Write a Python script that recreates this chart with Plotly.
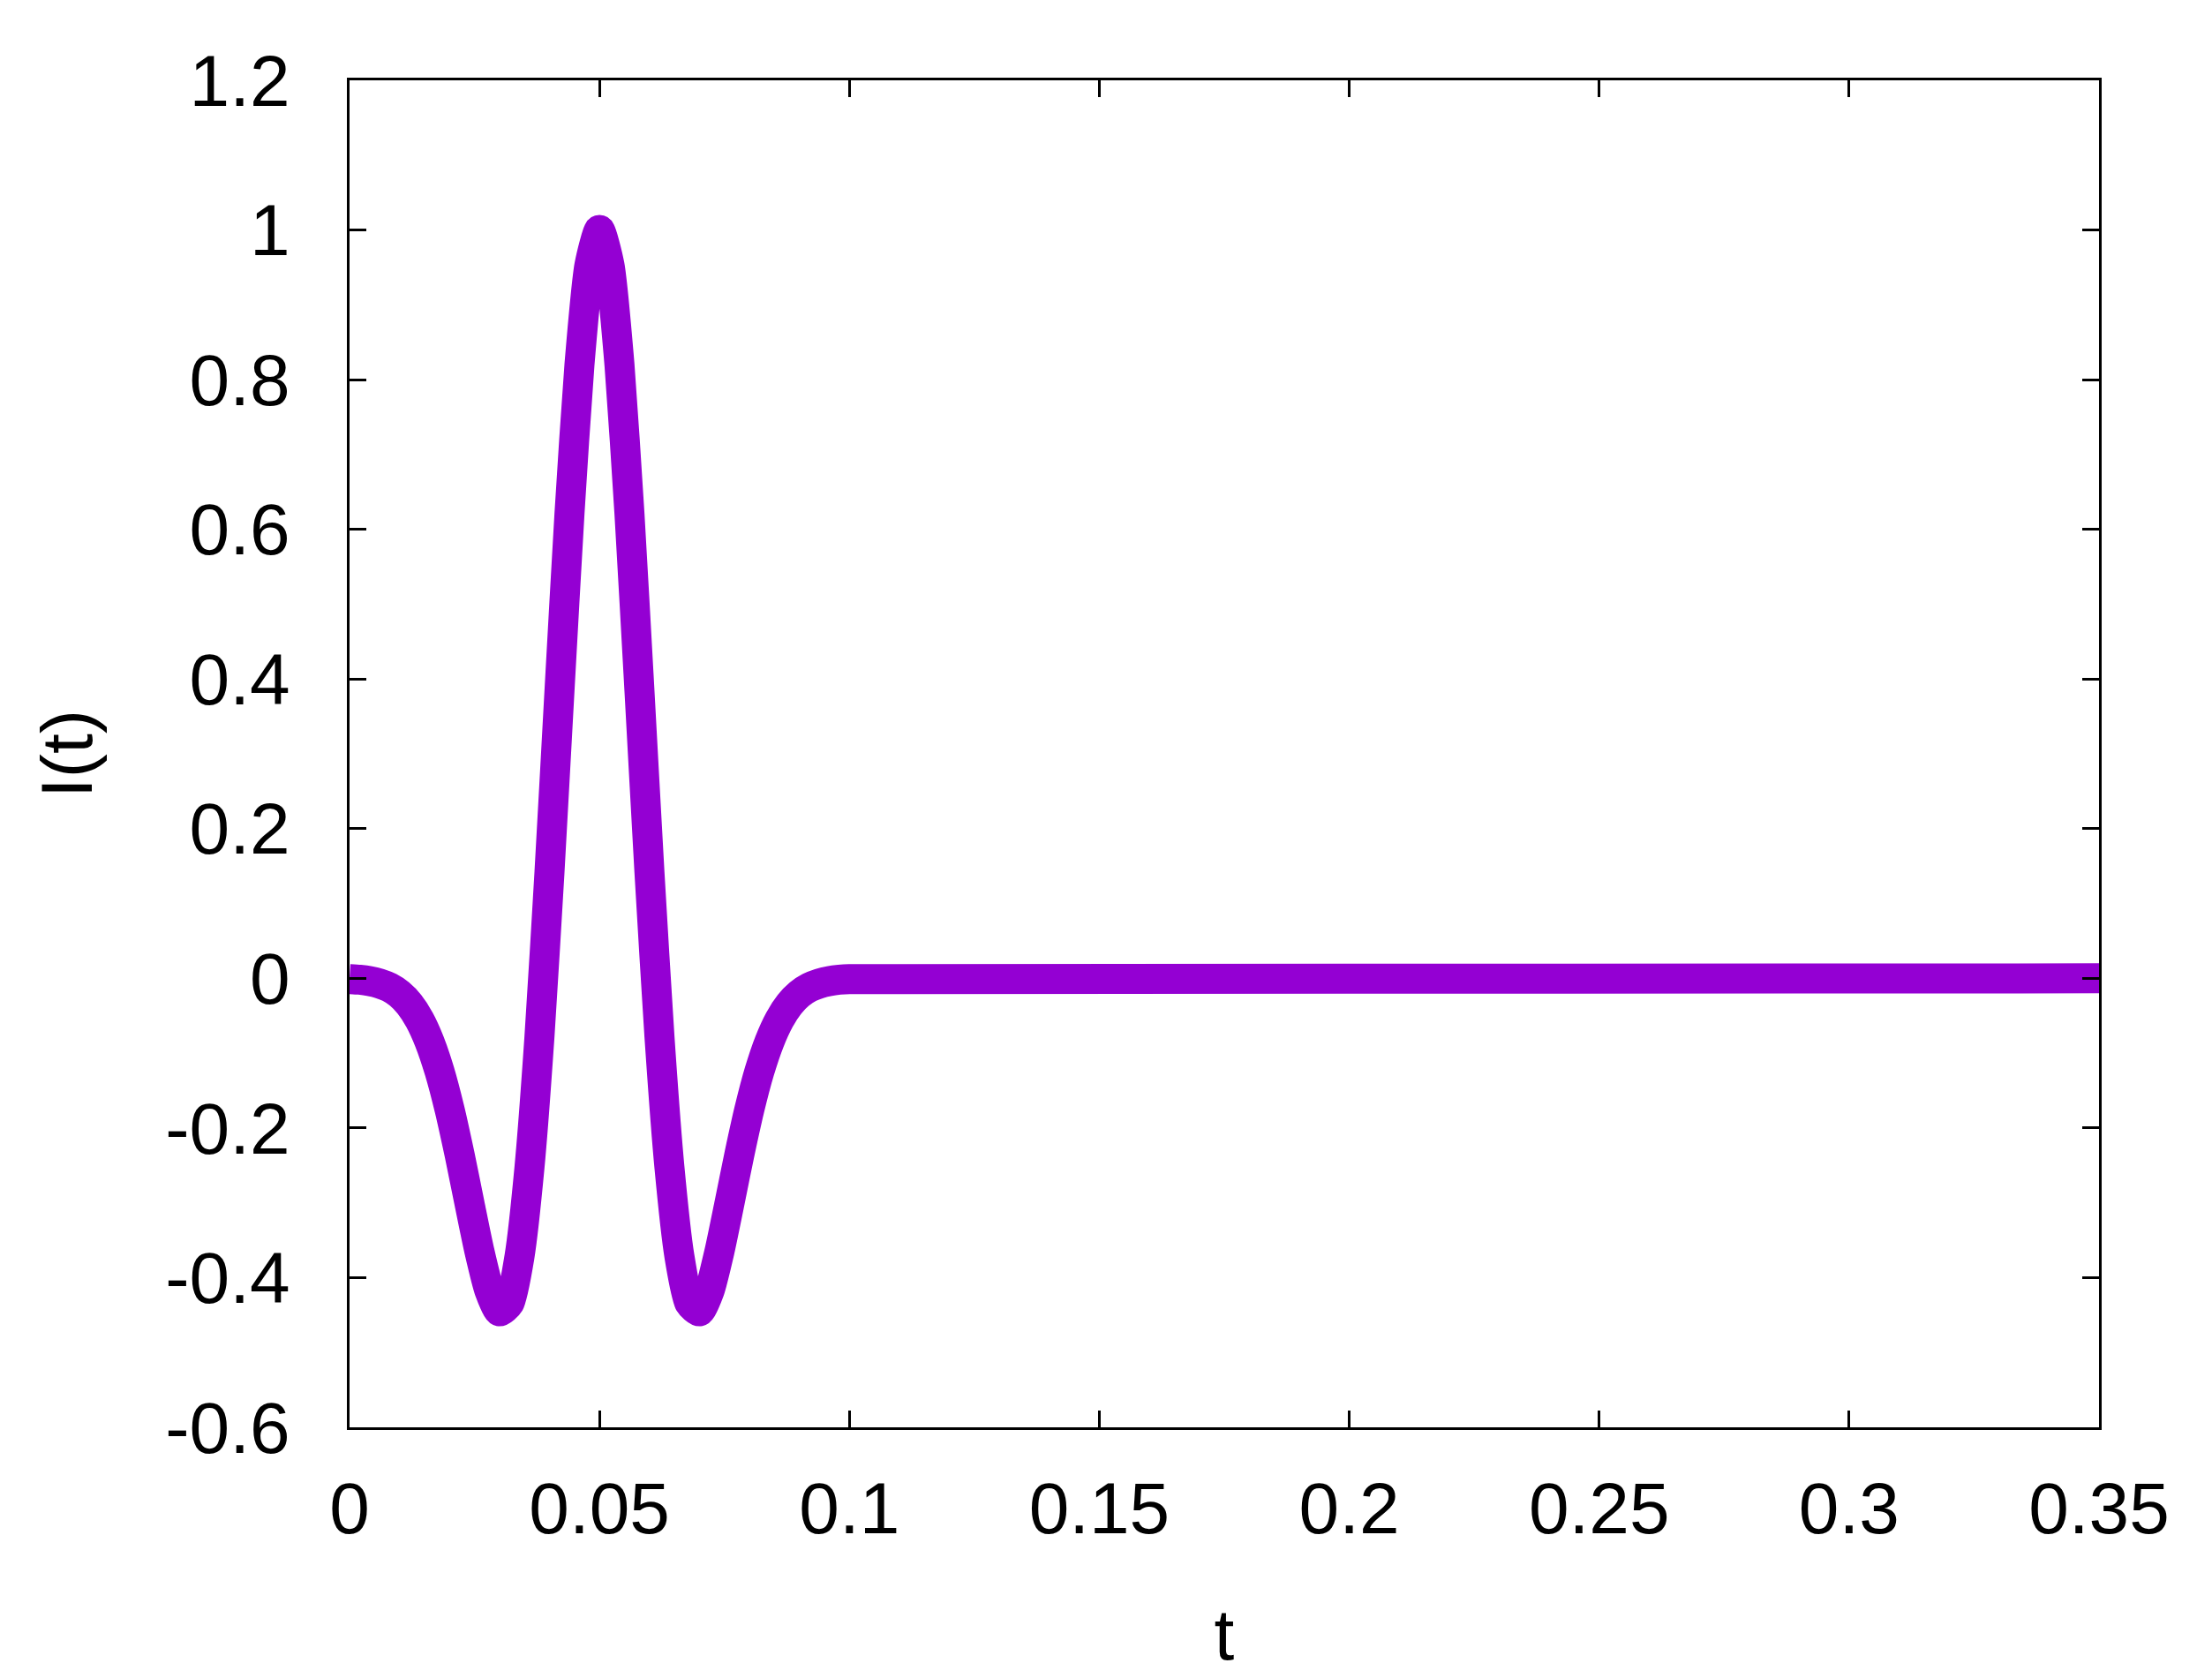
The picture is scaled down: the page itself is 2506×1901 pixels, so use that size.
import plotly.graph_objects as go

# time samples (s)
t = [0.000, 0.002, 0.004, 0.006, 0.008, 0.010, 0.012, 0.014, 0.016, 0.018,
     0.020, 0.022, 0.024, 0.026, 0.028, 0.030, 0.032, 0.034, 0.036, 0.038,
     0.040, 0.042, 0.044, 0.046, 0.048, 0.050, 0.052, 0.054, 0.056, 0.058,
     0.060, 0.062, 0.064, 0.066, 0.068, 0.070, 0.072, 0.074, 0.076, 0.078,
     0.080, 0.082, 0.084, 0.086, 0.088, 0.090, 0.092, 0.094, 0.096, 0.098,
     0.100, 0.350]

# I(t) values
I = [-0.0010, -0.0019, -0.0037, -0.0069, -0.0122, -0.0210, -0.0348, -0.0554, -0.0847, -0.1243,
     -0.1749, -0.2350, -0.3008, -0.3651, -0.4176, -0.4450, -0.4337, -0.3717, -0.2526, -0.0776,
     0.1418, 0.3842, 0.6209, 0.8202, 0.9532, 1.0000, 0.9532, 0.8202, 0.6209, 0.3842,
     0.1418, -0.0776, -0.2526, -0.3717, -0.4337, -0.4450, -0.4176, -0.3651, -0.3008, -0.2350,
     -0.1749, -0.1243, -0.0847, -0.0554, -0.0348, -0.0210, -0.0122, -0.0069, -0.0037, -0.0019,
     -0.0010, 0.0000]

x_ticks = [0, 0.05, 0.1, 0.15, 0.2, 0.25, 0.3, 0.35]
x_ticktext = ["0", "0.05", "0.1", "0.15", "0.2", "0.25", "0.3", "0.35"]
y_ticks = [-0.6, -0.4, -0.2, 0, 0.2, 0.4, 0.6, 0.8, 1, 1.2]
y_ticktext = ["-0.6", "-0.4", "-0.2", "0", "0.2", "0.4", "0.6", "0.8", "1", "1.2"]

FONT = "Liberation Sans, Arial, sans-serif"

fig = go.Figure()
fig.add_trace(go.Scatter(
    x=t, y=I, mode="lines",
    line=dict(color="#9400D3", width=34, shape="spline", smoothing=0.6),
    showlegend=False, hoverinfo="skip",
))

axis_common = dict(
    showgrid=False, zeroline=False,
    showline=True, linecolor="black", linewidth=3, mirror="ticks",
    ticks="inside", ticklen=19, tickwidth=3, tickcolor="black",
    tickfont=dict(family=FONT, size=82, color="black"),
)

fig.update_layout(
    width=2506, height=1901,
    paper_bgcolor="white", plot_bgcolor="white",
    margin=dict(l=396, r=128, t=91, b=284),
    xaxis=dict(range=[0, 0.35], tickvals=x_ticks, ticktext=x_ticktext,
               ticklabelstandoff=19,
               title=dict(text="t", font=dict(family=FONT, size=82, color="black"), standoff=70),
               **axis_common),
    yaxis=dict(range=[-0.6, 1.2], tickvals=y_ticks, ticktext=y_ticktext,
               ticklabelstandoff=48,
               title=dict(text="I(t)", font=dict(family=FONT, size=82, color="black"), standoff=56),
               **axis_common),
)

fig.write_html("out.html", config={"displayModeBar": False},
               post_script="document.body.style.margin='0';")
